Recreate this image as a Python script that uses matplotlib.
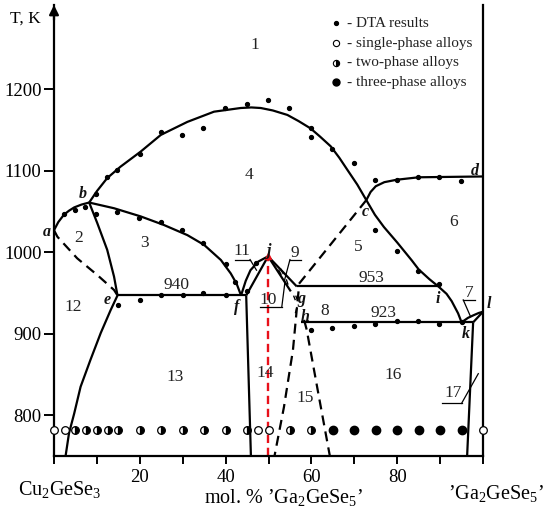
import matplotlib
matplotlib.use('Agg')
import matplotlib.pyplot as plt

plt.rcParams['font.family'] = ['Liberation Serif', 'DejaVu Serif']
plt.rcParams['mathtext.fontset'] = 'custom'
plt.rcParams['mathtext.rm'] = 'Liberation Serif'
plt.rcParams['mathtext.it'] = 'Liberation Serif:italic'
plt.rcParams['mathtext.bf'] = 'Liberation Serif:bold'

# ---------------- data ----------------
x_ticks = [0, 10, 20, 30, 40, 50, 60, 70, 80, 90, 100]
x_tick_labels = ['', '', '20', '', '40', '', '60', '', '80', '', '']
y_ticks = [800, 900, 1000, 1100, 1200]

# liquidus a-b
liq_ab_x = [0, 1.0, 2.3, 3.5, 4.7, 6.4, 8.2]
liq_ab_T = [1027, 1037, 1046, 1051, 1055, 1058.5, 1061]
# liquidus b - maximum - c
liq_bc_x = [8.2, 10, 12.4, 15.5, 20.2, 24.9, 31.1, 37.3, 43.5, 46, 48.2, 51, 54.4, 57,
            59.8, 62, 64.5, 66.5, 68.4, 70.7, 72.8]
liq_bc_T = [1061, 1075, 1091, 1105, 1123.5, 1144, 1160, 1172.5, 1177, 1177.7, 1177, 1174,
            1168.5, 1161, 1152, 1142, 1130, 1116, 1101, 1083, 1064]
# liquidus c - i - k
liq_ck_x = [72.8, 74.8, 76.9, 80, 83.4, 85, 87.5, 89.6, 91.5, 92.7, 94.2, 95]
liq_ck_T = [1064, 1046, 1031, 1012, 990, 979, 967, 958, 949, 940, 925, 914]
# c - d
cd_x = [72.8, 73.8, 75, 77, 79.9, 85, 100]
cd_T = [1064, 1074, 1081, 1086, 1089, 1092, 1093]
# b - f
bf_x = [8.2, 14, 20.2, 25.6, 31.1, 35, 38.9, 41.2, 42.6, 43.6]
bf_T = [1061, 1054, 1044, 1033.5, 1021, 1009, 990.5, 974, 961, 947]
# b - e
be_x = [8.2, 10.1, 12.4, 14, 14.8]
be_T = [1061, 1035.6, 1003, 970, 947]
# a - e (dashed)
ae_x = [0, 0.8, 5.4, 10.1, 14, 14.8]
ae_T = [1027, 1019, 992.6, 972, 953.7, 947]
# left solvus from e
se_x = [14.8, 13.2, 10.9, 8.5, 6.2, 4.7, 3.5, 2.7]
se_T = [947, 929, 901, 868, 835, 802, 778, 750]
# invariant lines
T_940 = 947
x_940 = [14.8, 44.8]
T_953 = 958
x_953 = [56.6, 89.6]
T_923 = 914
x_923 = [57.5, 97.7]
# f solvus
sf_x = [44.8, 45.9]
sf_T = [947, 750]
# right solvus
sr_x = [97.7, 96.3]
sr_T = [914, 750]
# k - l lens
kl_up_x = [95, 96.5, 97.7, 99, 100]
kl_up_T = [914, 919.5, 922.5, 925.5, 927]
kl_lo_x = [97.7, 100]
kl_lo_T = [914, 927]
# j lenses
j_x, j_T = 49.9, 995
lens11_l_x = [43.6, 44.7, 45.8, 47.6, 49.9]
lens11_l_T = [947, 965, 978, 988.5, 995]
lens11_r_x = [44.8, 49.9]
lens11_r_T = [947, 995]
lens9_a_x = [49.9, 56.6]
lens9_a_T = [995, 958]
lens9_b_x = [49.9, 55.2]
lens9_b_T = [995, 952]
# c - g dashed
cg_x = [72.8, 56.6]
cg_T = [1064, 958]
# region 15 dashed
d15l_x = [57.0, 56.5, 55.7, 53.6, 51.4]
d15l_T = [952, 925, 880, 810, 750]
d15r_x = [58.3, 58.9, 61.5, 64.3]
d15r_T = [917, 905, 830, 750]

# DTA results
dta_x = [2.3, 4.9, 7.2, 9.9, 9.9, 12.3, 14.8, 20, 24.9, 29.8, 34.8, 39.9, 44.9, 49.95,
         54.8, 59.9, 59.9, 64.9, 69.9, 74.8, 79.9, 84.9, 89.8, 94.9,
         74.8, 79.9, 84.9, 89.8, 95,
         14.8, 19.9, 24.9, 29.8, 34.8, 40.2, 42.2, 44.9, 47.2,
         15, 20, 25, 30, 34.8, 40,
         59.9, 64.9, 69.9, 74.8, 79.9, 84.9, 89.8]
dta_T = [1047, 1052, 1055, 1047, 1071, 1092, 1101, 1121, 1147, 1144, 1152, 1177, 1182, 1187,
         1177, 1152, 1142, 1127, 1110, 1089, 1089, 1092, 1092, 1087,
         1027, 1002, 977, 961, 914,
         1049, 1042, 1037, 1027, 1011, 986, 963, 952, 987,
         935, 941, 947, 947, 950, 947,
         904, 907, 909, 912, 916, 916, 912]

# alloys at annealing temperature
T_anneal = 782
single_x = [0, 2.5, 47.5, 50, 100]
two_x = [5, 7.5, 10, 12.5, 15, 20, 25, 30, 35, 40, 45, 55, 60]
three_x = [65, 70, 75, 80, 85, 90, 95]

region_labels = ['1', '2', '3', '4', '5', '6', '8', '12', '13', '14', '15', '16']
region_x = [46.9, 5.8, 21.0, 45.5, 70.9, 93.1, 63.0, 4.5, 28.2, 49.2, 58.5, 79.1]
region_T = [1254, 1017, 1011, 1095, 1007, 1037, 928, 933, 847, 852, 821, 849]

temp_labels = ['940', '953', '923']
temp_x = [28.6, 74.0, 76.8]
temp_T = [960, 968, 925]

pt_labels = ['a', 'b', 'c', 'd', 'e', 'f', 'g', 'h', 'i', 'j', 'k', 'l']
pt_x = [-1.7, 6.8, 72.5, 98.0, 12.4, 42.6, 57.7, 58.6, 89.4, 50.0, 96.0, 101.3]
pt_T = [1025, 1071, 1050, 1100, 941, 933, 943, 920, 943, 1001, 900, 937]

# ---------------- figure ----------------
fig = plt.figure(figsize=(5.5, 5.21), dpi=100)
ax = fig.add_axes([54 / 550, 1 - 456 / 521, 429 / 550, 451 / 521])
ax.set_xlim(0, 100)
ax.set_ylim(750, 1303.4)
ax.spines['top'].set_visible(False)
for s in ['left', 'right', 'bottom']:
    ax.spines[s].set_linewidth(1.6)
ax.annotate('', xy=(0, 1303.4), xytext=(0, 1285),
            arrowprops=dict(arrowstyle='-|>', color='black', lw=1.6,
                            mutation_scale=14, shrinkA=0, shrinkB=0),
            annotation_clip=False)

ax.set_xticks(x_ticks)
ax.set_xticklabels(x_tick_labels)
ax.set_yticks(y_ticks)
ax.tick_params(axis='x', direction='out', length=6, width=1.4, labelsize=13.5, pad=3)
ax.tick_params(axis='y', direction='out', length=7, width=1.4, labelsize=13.5, pad=2)

LW = 1.6
solid = dict(color='black', lw=LW, solid_capstyle='butt', solid_joinstyle='round')
dashed = dict(color='black', lw=LW, linestyle=(0, (4.5, 2.8)))

ax.plot(liq_ab_x, liq_ab_T, **solid)
ax.plot(liq_bc_x, liq_bc_T, **solid)
ax.plot(liq_ck_x, liq_ck_T, **solid)
ax.plot(cd_x, cd_T, **solid)
ax.plot(bf_x, bf_T, **solid)
ax.plot(be_x, be_T, **solid)
ax.plot(ae_x, ae_T, **dashed)
ax.plot(se_x, se_T, **solid)
ax.plot(x_940, [T_940, T_940], **solid)
ax.plot(x_953, [T_953, T_953], **solid)
ax.plot(x_923, [T_923, T_923], **solid)
ax.plot(sf_x, sf_T, **solid)
ax.plot(sr_x, sr_T, **solid)
ax.plot(kl_up_x, kl_up_T, **solid)
ax.plot(kl_lo_x, kl_lo_T, **solid)
ax.plot(lens11_l_x, lens11_l_T, **solid)
ax.plot(lens11_r_x, lens11_r_T, **solid)
ax.plot(lens9_a_x, lens9_a_T, **solid)
ax.plot(lens9_b_x, lens9_b_T, **solid)
ax.plot(cg_x, cg_T, **dashed)
ax.plot(d15l_x, d15l_T, **dashed)
ax.plot(d15r_x, d15r_T, **dashed)

# red composition line
ax.plot([j_x, j_x], [750, j_T], color='#e8101a', lw=1.7, linestyle=(0, (3.5, 2)))
ax.plot([j_x], [j_T], marker='^', color='#e8101a', ms=4)

# small hatch marks near j-g
hatch = [((52.4, 978), (52.9, 973)), ((52.9, 979), (53.4, 974)),
         ((53.7, 966), (54.0, 961)), ((54.2, 966), (54.5, 961)),
         ((55.9, 946), (56.2, 942)), ((56.4, 946), (56.7, 942)),
         ((56.6, 932), (56.3, 926))]
for (x0, y0), (x1, y1) in hatch:
    ax.plot([x0, x1], [y0, y1], color='black', lw=1.0)

# DTA dots
ax.plot(dta_x, dta_T, 'o', color='black', ms=2.8, zorder=5)

# alloy markers
ax.plot(single_x, [T_anneal] * len(single_x), 'o', mfc='white', mec='black', mew=0.9, ms=5.5,
        clip_on=False, zorder=6)
ax.plot(two_x, [T_anneal] * len(two_x), 'o', fillstyle='right', mfc='black',
        markerfacecoloralt='white', mec='black', mew=0.9, ms=5.5, zorder=6)
ax.plot(three_x, [T_anneal] * len(three_x), 'o', color='black', ms=6, zorder=6)

# region labels
for lab, x, t in zip(region_labels, region_x, region_T):
    ax.text(x, t, lab, ha='center', va='center', fontsize=12.5, color='#222222')
for lab, x, t in zip(temp_labels, temp_x, temp_T):
    ax.text(x, t, lab, ha='center', va='center', fontsize=12.5, color='#222222')
for lab, x, t in zip(pt_labels, pt_x, pt_T):
    ax.text(x, t, lab, ha='center', va='center', fontsize=11.5, fontstyle='italic',
            fontweight='bold', color='#111111', clip_on=False)

# leader labels
leaders = [('11', 43.7, 1001, (42.2, 45.7), 991, (45.7, 991), (47.2, 978)),
           ('9', 56.2, 999, (55.0, 57.6), 991, (55.0, 991), (53.8, 967)),
           ('10', 50.0, 941, (48.0, 53.1), 933, (53.1, 933), (53.8, 962)),
           ('7', 96.8, 950, (95.4, 98.1), 941.5, (95.4, 941.5), (97.1, 921)),
           ('17', 93.1, 827, (90.4, 95.0), 814.5, (95.0, 814.5), (98.9, 851))]
for lab, tx, tt, (u0, u1), uy, p0, p1 in leaders:
    ax.text(tx, tt, lab, ha='center', va='center', fontsize=12.5, color='#222222', clip_on=False)
    ax.plot([u0, u1], [uy, uy], color='black', lw=0.9, clip_on=False)
    ax.plot([p0[0], p1[0]], [p0[1], p1[1]], color='black', lw=0.9, clip_on=False)

# legend (manual)
leg_x = 65.7
leg_text_x = 68.4
leg_T = [1281, 1256.5, 1232.5, 1208.5]
leg_texts = ['- DTA results', '- single-phase alloys', '- two-phase alloys', '- three-phase alloys']
ax.plot([leg_x], [leg_T[0]], 'o', color='black', ms=2.8, clip_on=False)
ax.plot([leg_x], [leg_T[1]], 'o', mfc='white', mec='black', mew=0.8, ms=4.5, clip_on=False)
ax.plot([leg_x], [leg_T[2]], 'o', fillstyle='right', mfc='black', markerfacecoloralt='white',
        mec='black', mew=0.8, ms=4.5, clip_on=False)
ax.plot([leg_x], [leg_T[3]], 'o', color='black', ms=5, clip_on=False)
for t, s in zip(leg_T, leg_texts):
    ax.text(leg_text_x, t, s, ha='left', va='center', fontsize=11, color='#222222')

# axis texts
fig.text(10 / 550, 1 - 19 / 521, 'T, K', ha='left', va='center', fontsize=12.5)
fig.text(60 / 550, 1 - 490 / 521, r'Cu$_2$GeSe$_3$', ha='center', va='center', fontsize=14.5)
fig.text(284 / 550, 1 - 497 / 521, r"mol. % ’Ga$_2$GeSe$_5$’", ha='center', va='center', fontsize=14.5)
fig.text(496 / 550, 1 - 493 / 521, r"’Ga$_2$GeSe$_5$’", ha='center', va='center', fontsize=14.5)

fig.savefig('out.png', dpi=100)
